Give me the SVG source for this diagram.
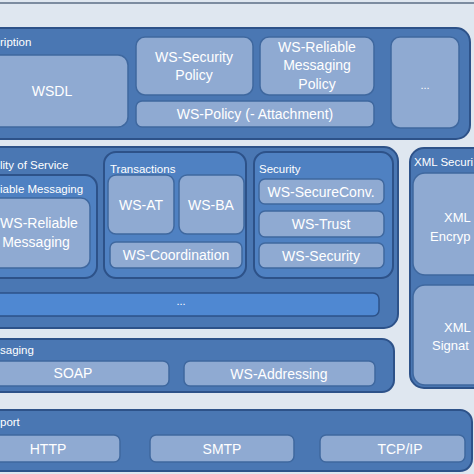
<svg xmlns="http://www.w3.org/2000/svg" width="474" height="474" viewBox="0 0 474 474">
<style>
.bg{fill:#dfe7f0}
.panel{fill:#4a77b3;stroke:#2d5289;stroke-width:2}
.sub{fill:#4f81c2;stroke:#2d5289;stroke-width:2}
.box{fill:#8faad2;stroke:#3f689f;stroke-width:1.5}
.bar{fill:#4f88d2;stroke:#2d5289;stroke-width:1.5}
text{font-family:"Liberation Sans",Arial,sans-serif;fill:#ffffff}
.t{font-size:14px;text-anchor:middle}
.l{font-size:11.5px}
.r{font-size:13px;text-anchor:start}
</style>
<rect class="bg" x="0" y="0" width="474" height="474"/>
<line x1="0" y1="3" x2="474" y2="3" stroke="#5b6e86" stroke-width="1.5"/>

<g id="description">
<rect class="panel" x="-20" y="28" width="490" height="111" rx="14"/>
<text class="l" x="0" y="46">ription</text>
</g>
<g id="wsdl"><rect class="box" x="-20" y="55" width="148" height="72" rx="10"/><text class="t" x="52" y="96">WSDL</text></g>
<g id="ws-security-policy"><rect class="box" x="136" y="37" width="117" height="58" rx="9"/><text class="t" x="194" y="62">WS-Security</text><text class="t" x="194" y="80">Policy</text></g>
<g id="ws-rm-policy"><rect class="box" x="260" y="37" width="114" height="58" rx="9"/><text class="t" x="317" y="52">WS-Reliable</text><text class="t" x="317" y="70">Messaging</text><text class="t" x="317" y="89">Policy</text></g>
<g id="ws-policy"><rect class="box" x="136" y="101" width="238" height="26" rx="6"/><text class="t" x="255" y="119">WS-Policy (- Attachment)</text></g>
<g id="desc-more"><rect class="box" x="391" y="37" width="68" height="91" rx="9"/><text class="t" x="425" y="89" style="font-size:11px">...</text></g>

<g id="qos">
<rect class="panel" x="-20" y="147" width="418" height="181" rx="14"/>
<text class="l" x="0" y="169">lity of Service</text>
</g>
<g id="reliable-messaging">
<rect class="sub" x="-20" y="175" width="117" height="103" rx="12"/>
<text class="l" x="0" y="193">iable Messaging</text>
<rect class="box" x="-20" y="198" width="110" height="70" rx="9"/>
<text class="t" x="39" y="228">WS-Reliable</text><text class="t" x="36" y="247">Messaging</text>
</g>
<g id="transactions">
<rect class="sub" x="104" y="152" width="142" height="126" rx="12"/>
<text class="l" x="110" y="173">Transactions</text>
</g>
<g id="ws-at"><rect class="box" x="108" y="175" width="66" height="59" rx="8"/><text class="t" x="141" y="210">WS-AT</text></g>
<g id="ws-ba"><rect class="box" x="179" y="175" width="65" height="59" rx="8"/><text class="t" x="211" y="210">WS-BA</text></g>
<g id="ws-coordination"><rect class="box" x="110" y="242" width="132" height="26" rx="6"/><text class="t" x="176" y="260">WS-Coordination</text></g>
<g id="security">
<rect class="sub" x="254" y="152" width="139" height="126" rx="12"/>
<text class="l" x="259" y="173">Security</text>
</g>
<g id="ws-secureconv"><rect class="box" x="259" y="179" width="125" height="25" rx="6"/><text class="t" x="321" y="197">WS-SecureConv.</text></g>
<g id="ws-trust"><rect class="box" x="259" y="211" width="125" height="26" rx="6"/><text class="t" x="321" y="229">WS-Trust</text></g>
<g id="ws-security"><rect class="box" x="259" y="243" width="125" height="25" rx="6"/><text class="t" x="321" y="261">WS-Security</text></g>
<g id="qos-more"><rect class="bar" x="-20" y="293" width="399" height="23" rx="6"/><text class="t" x="181" y="305" style="font-size:11px">...</text></g>

<g id="messaging">
<rect class="panel" x="-20" y="339" width="414" height="53" rx="12"/>
<text class="l" x="0" y="354">saging</text>
</g>
<g id="soap"><rect class="box" x="-20" y="361" width="189" height="25" rx="6"/><text class="t" x="73" y="378">SOAP</text></g>
<g id="ws-addressing"><rect class="box" x="184" y="361" width="191" height="25" rx="6"/><text class="t" x="279" y="379">WS-Addressing</text></g>

<g id="transport">
<rect class="panel" x="-20" y="410" width="492" height="61" rx="12"/>
<text class="l" x="0" y="426">port</text>
</g>
<g id="http"><rect class="box" x="-20" y="435" width="140" height="27" rx="6"/><text class="t" x="48" y="454">HTTP</text></g>
<g id="smtp"><rect class="box" x="150" y="435" width="144" height="27" rx="6"/><text class="t" x="222" y="454">SMTP</text></g>
<g id="tcpip"><rect class="box" x="320" y="435" width="145" height="27" rx="6"/><text class="t" x="400" y="454">TCP/IP</text></g>

<g id="xml-security">
<rect class="panel" x="410" y="148" width="90" height="240" rx="14"/>
<text class="l" x="414" y="166">XML Securi</text>
</g>
<g id="xml-encryption"><rect class="box" x="413" y="173" width="80" height="102" rx="12"/><text class="r" x="444" y="222">XML</text><text class="r" x="430" y="241">Encryp</text></g>
<g id="xml-signature"><rect class="box" x="413" y="285" width="80" height="100" rx="12"/><text class="r" x="444" y="332">XML</text><text class="r" x="432" y="350">Signat</text></g>
</svg>
